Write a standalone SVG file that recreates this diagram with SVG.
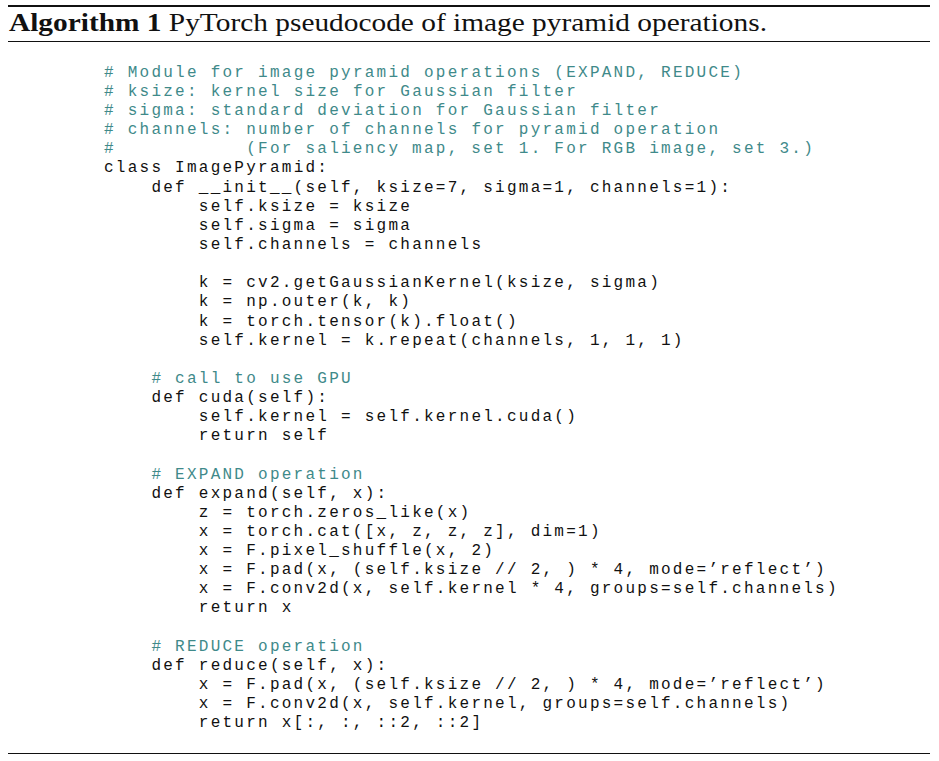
<svg xmlns="http://www.w3.org/2000/svg" width="939" height="761" viewBox="0 0 939 761">
<style>
.c{font-family:"Liberation Mono",monospace;font-size:16px;letter-spacing:2.25px;fill:#111}
.m{fill:#3f8a8a}
.cap{font-family:"Liberation Serif",serif;font-size:26px;fill:#111}
</style>
<rect width="939" height="761" fill="#fff"/>
<line x1="8" y1="6" x2="930" y2="6" stroke="#111" stroke-width="2"/>
<text class="cap" x="9" y="31" textLength="758" lengthAdjust="spacingAndGlyphs"><tspan font-weight="bold">Algorithm 1</tspan> PyTorch pseudocode of image pyramid operations.</text>
<line x1="8" y1="41.5" x2="930" y2="41.5" stroke="#111" stroke-width="1"/>
<g class="c">
<text class="m" x="104" y="77"># Module for image pyramid operations (EXPAND, REDUCE)</text>
<text class="m" x="104" y="96"># ksize: kernel size for Gaussian filter</text>
<text class="m" x="104" y="115"># sigma: standard deviation for Gaussian filter</text>
<text class="m" x="104" y="134"># channels: number of channels for pyramid operation</text>
<text class="m" x="104" y="153">#</text>
<text class="m" x="246.2" y="153">(For saliency map, set 1. For RGB image, set 3.)</text>
<text x="104" y="172">class ImagePyramid:</text>
<text x="151.4" y="192">def __init__(self, ksize=7, sigma=1, channels=1):</text>
<text x="198.8" y="211">self.ksize = ksize</text>
<text x="198.8" y="230">self.sigma = sigma</text>
<text x="198.8" y="249">self.channels = channels</text>
<text x="198.8" y="287">k = cv2.getGaussianKernel(ksize, sigma)</text>
<text x="198.8" y="306">k = np.outer(k, k)</text>
<text x="198.8" y="326">k = torch.tensor(k).float()</text>
<text x="198.8" y="345">self.kernel = k.repeat(channels, 1, 1, 1)</text>
<text class="m" x="151.4" y="383"># call to use GPU</text>
<text x="151.4" y="402">def cuda(self):</text>
<text x="198.8" y="421">self.kernel = self.kernel.cuda()</text>
<text x="198.8" y="440">return self</text>
<text class="m" x="151.4" y="479"># EXPAND operation</text>
<text x="151.4" y="498">def expand(self, x):</text>
<text x="198.8" y="517">z = torch.zeros_like(x)</text>
<text x="198.8" y="536">x = torch.cat([x, z, z, z], dim=1)</text>
<text x="198.8" y="555">x = F.pixel_shuffle(x, 2)</text>
<text x="198.8" y="574">x = F.pad(x, (self.ksize // 2, ) * 4, mode=’reflect’)</text>
<text x="198.8" y="593">x = F.conv2d(x, self.kernel * 4, groups=self.channels)</text>
<text x="198.8" y="612">return x</text>
<text class="m" x="151.4" y="651"># REDUCE operation</text>
<text x="151.4" y="670">def reduce(self, x):</text>
<text x="198.8" y="689">x = F.pad(x, (self.ksize // 2, ) * 4, mode=’reflect’)</text>
<text x="198.8" y="708">x = F.conv2d(x, self.kernel, groups=self.channels)</text>
<text x="198.8" y="727">return x[:, :, ::2, ::2]</text>
</g>
<line x1="8" y1="753.5" x2="930" y2="753.5" stroke="#111" stroke-width="1"/>
</svg>
